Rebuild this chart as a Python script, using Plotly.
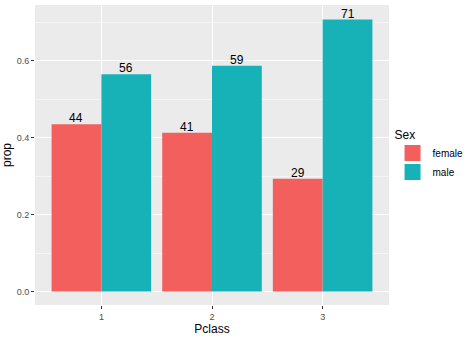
import plotly.graph_objects as go

pclass = ["1", "2", "3"]
sexes = ["female", "male"]
female_prop = [0.435, 0.413, 0.293]
male_prop = [0.565, 0.587, 0.707]
female_lbl = ["44", "41", "29"]
male_lbl = ["56", "59", "71"]
colors = {"female": "#F25F5C", "male": "#17B2B8"}

xnum = [1, 2, 3]
dodge = {"female": -0.225, "male": 0.225}
fig = go.Figure()
for name, vals, lbl in [("female", female_prop, female_lbl), ("male", male_prop, male_lbl)]:
    fig.add_trace(go.Bar(
        x=xnum, y=vals, name=name, showlegend=False,
        marker=dict(color=colors[name], line=dict(width=0)),
    ))
    # legend proxy with larger square key
    fig.add_trace(go.Scatter(
        x=[None], y=[None], mode="markers", name=name,
        marker=dict(symbol="square", size=16, color=colors[name]),
    ))
    for xi, v, t in zip(xnum, vals, lbl):
        fig.add_annotation(
            x=xi + dodge[name], y=v, text=t, showarrow=False,
            yanchor="bottom", yshift=-3,
            font=dict(size=12, color="black", family="Liberation Sans, Arial"),
        )

fig.update_layout(
    width=474, height=338,
    barmode="group", bargap=0.1, bargroupgap=0,
    plot_bgcolor="#EBEBEB", paper_bgcolor="white",
    margin=dict(l=33, r=72, t=5, b=30),
    font=dict(family="Liberation Sans, Arial", size=9, color="#4D4D4D"),
    legend=dict(
        title=dict(text="Sex", font=dict(size=12, color="black")),
        font=dict(size=10, color="black"),
        x=1.01, xanchor="left", y=0.5, yanchor="middle",
        bgcolor="rgba(0,0,0,0)", itemsizing="trace", tracegroupgap=0,
    ),
)
fig.update_xaxes(
    range=[0.4, 3.6], tickvals=xnum, ticktext=pclass,
    showgrid=True, gridcolor="white", gridwidth=1,
    ticks="outside", ticklen=3, tickcolor="#333333",
    tickfont=dict(size=9, color="#4D4D4D"),
    title=dict(text="Pclass", font=dict(size=12, color="black"), standoff=3),
    zeroline=False, showline=False,
)
fig.update_yaxes(
    range=[-0.035, 0.745], tickvals=[0, 0.2, 0.4, 0.6], ticktext=["0.0", "0.2", "0.4", "0.6"],
    showgrid=True, gridcolor="white", gridwidth=1,
    minor=dict(tickvals=[0.1, 0.3, 0.5, 0.7], showgrid=True, gridcolor="#F5F5F5", gridwidth=0.5),
    ticks="outside", ticklen=3, tickcolor="#333333",
    tickfont=dict(size=9, color="#4D4D4D"),
    title=dict(text="prop", font=dict(size=12, color="black"), standoff=3),
    zeroline=False, showline=False,
)
fig.write_html("out.html")
